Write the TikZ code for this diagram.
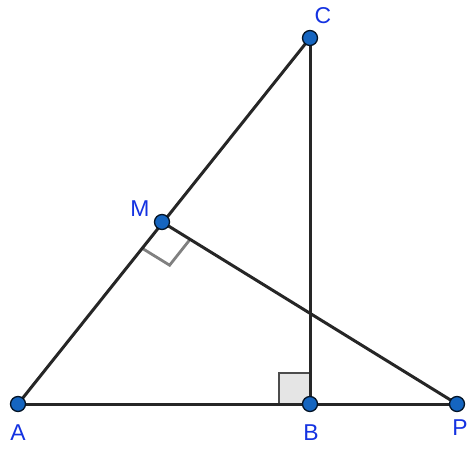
\documentclass[tikz,border=0pt]{standalone}
\usepackage{fontspec}
\setmainfont{Liberation Sans}
\usetikzlibrary{calc}

\definecolor{ptblue}{RGB}{21,101,192}
\definecolor{lblblue}{RGB}{20,50,225}
\definecolor{segdark}{RGB}{38,38,38}

\begin{document}
\begin{tikzpicture}[x=1bp, y=-1bp,
    seg/.style={draw=segdark, line width=3bp},
    pt/.style={circle, fill=ptblue, draw=black!80!ptblue, line width=1.3bp, minimum size=15bp, inner sep=0pt},
    lbl/.style={text=lblblue, font=\fontsize{23}{25}\selectfont, inner sep=0pt}]

\useasboundingbox (0,0) rectangle (474,449);

% Define the points
\coordinate (A) at (18,404);
\coordinate (B) at (310,404);
\coordinate (C) at (310,38);
\coordinate (M) at (162,222);
\coordinate (P) at (457,404);

% Right angle at B
\draw[fill=black!10, draw=black!70, line width=2.6bp] ($(B)+(-31,0)$) rectangle ($(B)+(0,-31)$);

% Right angle at M
\draw[draw=black!50, line width=2.8bp]
    ($(M)!33bp!(A)$) -- ($(M)!33bp!(A)+(M)!33bp!(P)-(M)$) -- ($(M)!33bp!(P)$);

% Segments
\path[seg] (A) -- (P);
\path[seg] (A) -- (C);
\path[seg] (B) -- (C);
\path[seg] (M) -- (P);

% Points
\node[pt] (pA) at (A) {};
\node[pt] (pB) at (B) {};
\node[pt] (pC) at (C) {};
\node[pt] (pM) at (M) {};
\node[pt] (pP) at (P) {};

% Labels
\node[lbl] at (18,433) {A};
\node[lbl] at (311,433) {B};
\node[lbl] at (323,16) {C};
\node[lbl] at (140,209) {M};
\node[lbl] at (460,428) {P};

\end{tikzpicture}
\end{document}
